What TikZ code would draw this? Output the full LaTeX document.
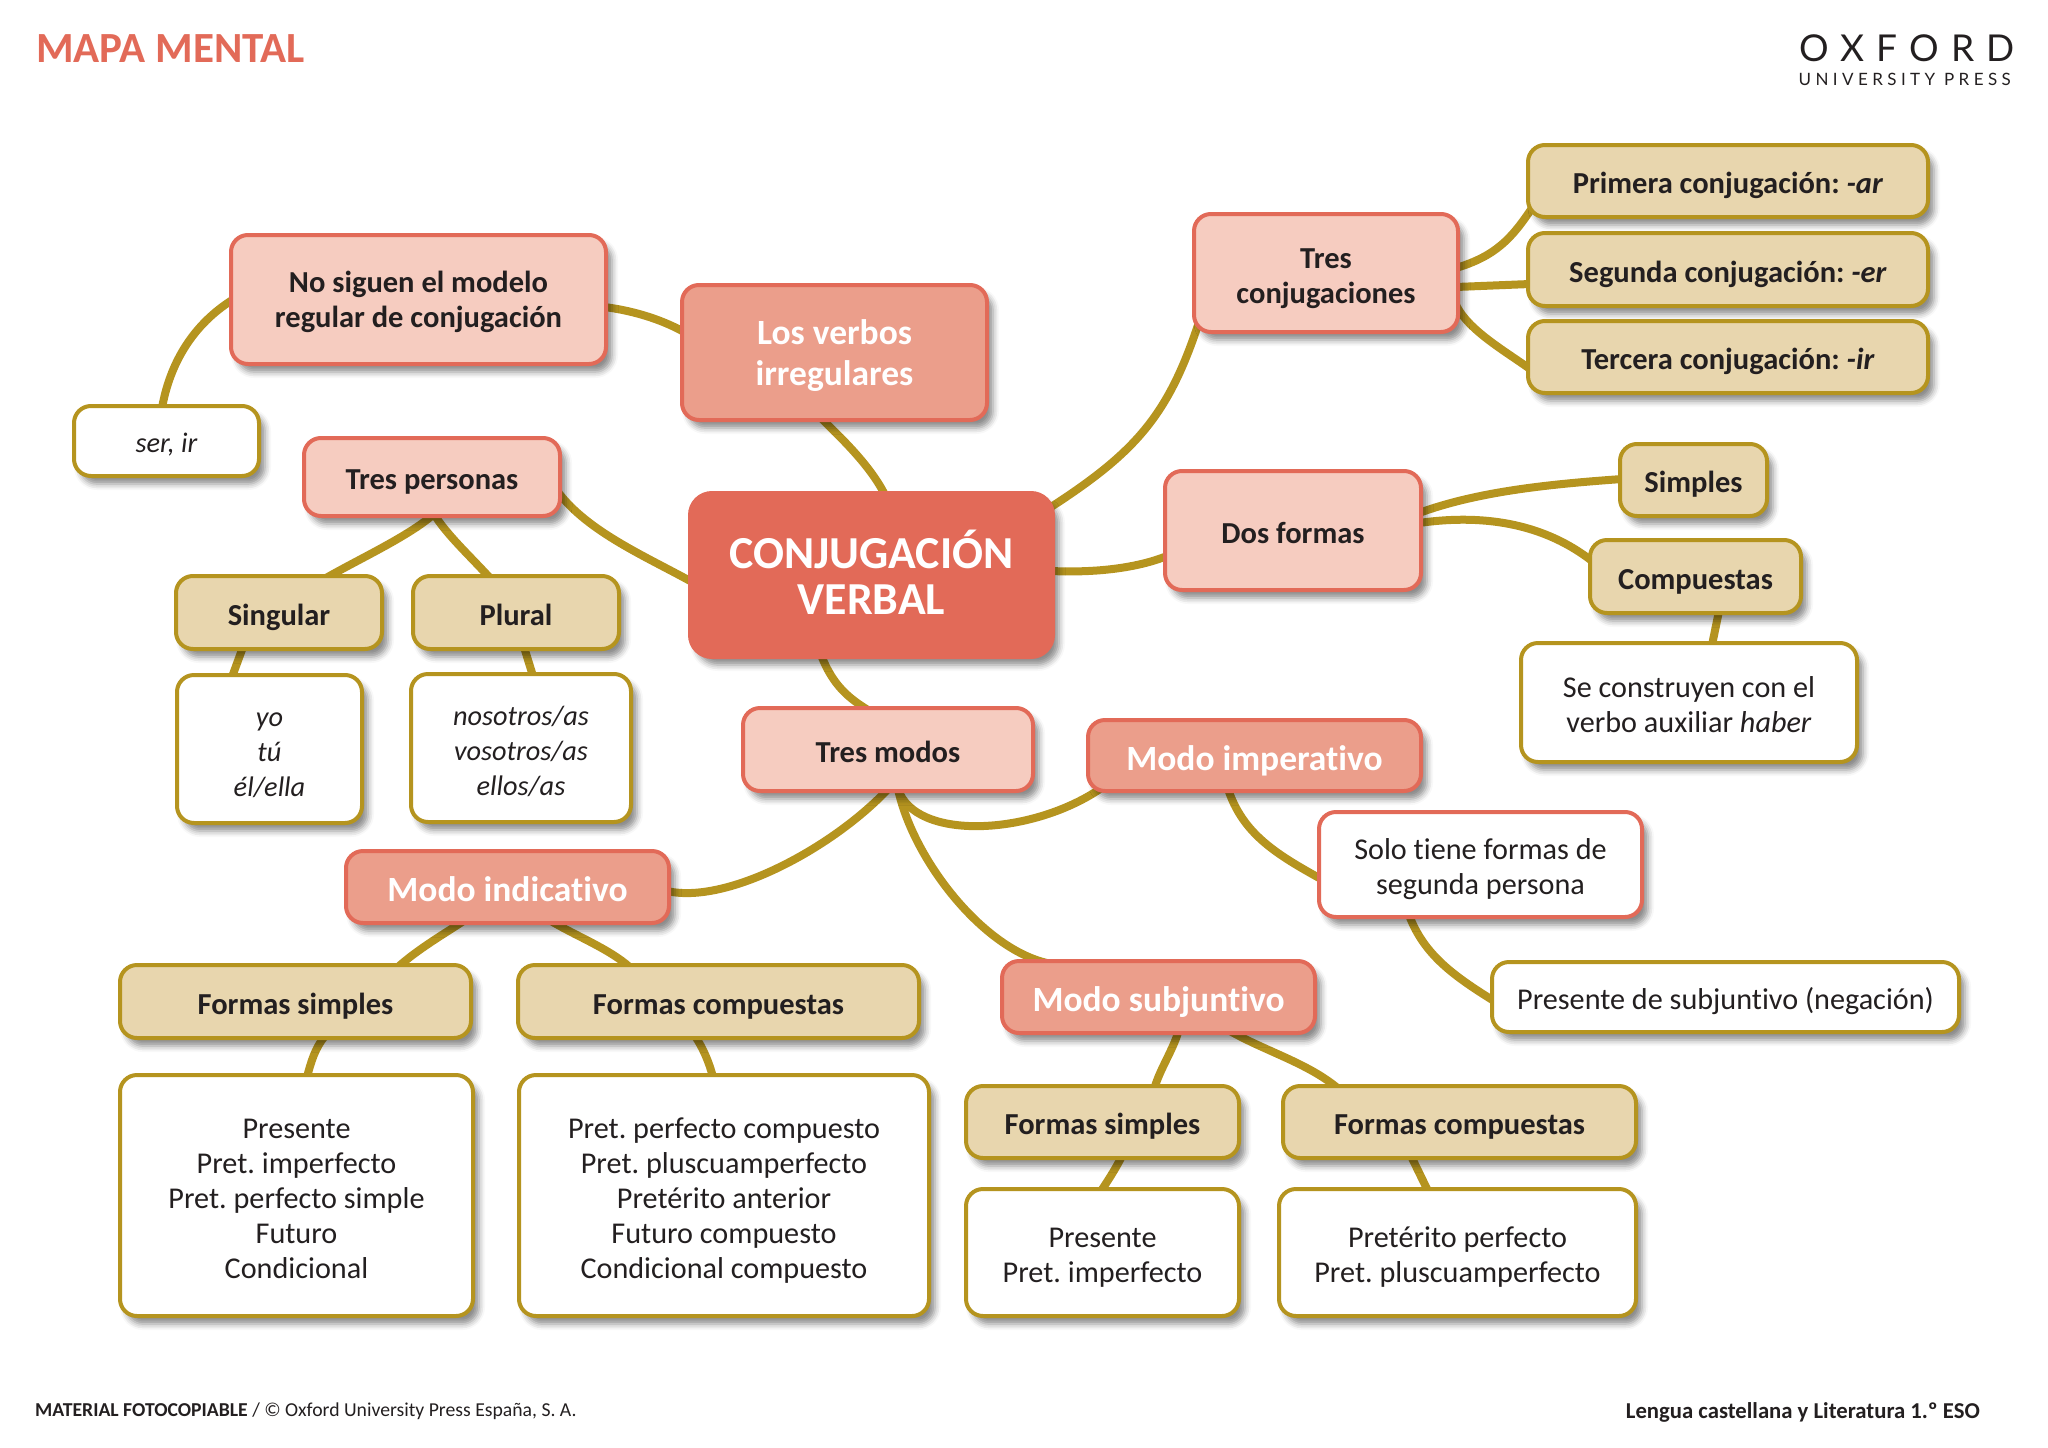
\documentclass[tikz,border=0pt]{standalone}
\usepackage{fontspec}
\setmainfont[RawFeature={-liga}]{Carlito}
\newfontfamily\oxfont[LetterSpace=33]{Lato}
\newfontfamily\pressfont[LetterSpace=26]{Lato}
\usetikzlibrary{backgrounds,shadows.blur}
\definecolor{coral}{HTML}{E26A58}
\definecolor{salmon}{HTML}{EB9E8B}
\definecolor{blush}{HTML}{F6CCC0}
\definecolor{sand}{HTML}{E8D6AE}
\definecolor{gold}{HTML}{B5941F}
\definecolor{ink}{HTML}{231F20}
\newcommand{\lift}{\rule{0pt}{25pt}}
\tikzset{
  mapbox/.style={rectangle, rounded corners=17pt, line width=4pt, outer sep=-2pt, align=center,
    text=ink, text depth=0pt, execute at begin node={\rule{0pt}{.83em}}, font=\fontsize{30.2}{35}\selectfont,
    blur shadow={shadow xshift=6pt, shadow yshift=-8pt, shadow blur radius=6pt, shadow opacity=45}},
  mainbox/.style={mapbox, fill=coral, draw=coral, rounded corners=22pt, text=white, text depth=5pt, execute at begin node={}, font=\fontsize{45.8}{46}\bfseries\selectfont},
  strongbox/.style={mapbox, fill=salmon, draw=coral, text=white, font=\fontsize{35.5}{41}\bfseries\selectfont},
  softbox/.style={mapbox, fill=blush, draw=coral, font=\fontsize{30.5}{35}\bfseries\selectfont},
  sandbox/.style={mapbox, fill=sand, draw=gold, font=\fontsize{30.5}{35}\bfseries\selectfont},
  plainbox/.style={mapbox, fill=white, draw=gold},
  italicbox/.style={plainbox, font=\fontsize{28.3}{35}\itshape\selectfont},
  redplainbox/.style={mapbox, fill=white, draw=coral},
  link/.style={draw=gold, line width=8pt}
}
\begin{document}
\frenchspacing
\begin{tikzpicture}[x=1pt, y=-1pt]
    \useasboundingbox (0,0) rectangle (2048,1448);
    % Header and footer
    \node[text=coral, font=\fontsize{43}{43}\bfseries\selectfont, anchor=west, inner sep=0pt] (title) at (36,49) {MAPA MENTAL};
    \node[text=ink, font=\oxfont\fontsize{37}{37}\selectfont, anchor=east, inner sep=0pt] (oxford) at (2015,48) {OXFORD};
    \node[text=ink, font=\pressfont\fontsize{17}{17}\selectfont, anchor=east, inner sep=0pt] (press) at (2011,79) {UNIVERSITY PRESS};
    \node[text=ink, font=\fontsize{19.7}{20}\selectfont, anchor=west, inner sep=0pt] (copyr) at (35,1411) {\textbf{MATERIAL FOTOCOPIABLE} / © Oxford University Press España, S. A.};
    \node[text=ink, font=\fontsize{22.7}{23}\bfseries\selectfont, anchor=east, inner sep=0pt] (book) at (1980,1412) {Lengua castellana y Literatura 1.º ESO};

    % Centre
    \node[mainbox, minimum width=363pt, minimum height=164pt] (central) at (871.5,575) {CONJUGACIÓN\\VERBAL};

    % Irregular verbs
    \node[strongbox, minimum width=305pt, minimum height=135pt] (irregulares) at (834.5,352.5) {Los verbos\\irregulares};
    \node[softbox, minimum width=375pt, minimum height=129pt] (nosiguen) at (418.5,299.5) {No siguen el modelo\\regular de conjugación};
    \node[italicbox, minimum width=185pt, minimum height=70pt] (serir) at (166.5,441) {ser, ir};

    % Persons
    \node[softbox, minimum width=256pt, minimum height=78pt] (personas) at (432,477) {Tres personas};
    \node[sandbox, minimum width=206pt, minimum height=73pt] (singular) at (279,612.5) {Singular};
    \node[sandbox, minimum width=206pt, minimum height=73pt] (plural) at (516,612.5) {Plural};
    \node[italicbox, minimum width=185pt, minimum height=148pt] (yo) at (269.5,749) {\lift yo\\tú\\él/ella};
    \node[italicbox, minimum width=220pt, minimum height=148pt] (nosotros) at (521,748) {\lift nosotros/as\\vosotros/as\\ellos/as};

    % Conjugations
    \node[softbox, minimum width=264pt, minimum height=118pt] (conjug) at (1326,273) {\lift Tres\\conjugaciones};
    \node[sandbox, minimum width=400pt, minimum height=72pt] (primera) at (1728,181) {Primera conjugación: \textit{-ar}};
    \node[sandbox, minimum width=400pt, minimum height=73pt] (segunda) at (1728,269.5) {Segunda conjugación: \textit{-er}};
    \node[sandbox, minimum width=400pt, minimum height=72pt] (tercera) at (1728,357) {Tercera conjugación: \textit{-ir}};

    % Forms
    \node[softbox, minimum width=256pt, minimum height=119pt] (dosformas) at (1293,530.5) {Dos formas};
    \node[sandbox, minimum width=147pt, minimum height=72pt] (simples) at (1693.5,480) {Simples};
    \node[sandbox, minimum width=211pt, minimum height=73pt] (compuestas) at (1695.5,576.5) {Compuestas};
    \node[plainbox, minimum width=336pt, minimum height=119pt] (auxiliar) at (1689,702.5) {\lift Se construyen con el\\verbo auxiliar \textit{haber}};

    % Moods
    \node[softbox, minimum width=290pt, minimum height=83pt] (modos) at (888,749.5) {Tres modos};
    \node[strongbox, minimum width=333pt, minimum height=71pt] (imperativo) at (1254.5,755.5) {Modo imperativo};
    \node[redplainbox, minimum width=323pt, minimum height=105pt] (solo) at (1480.5,864.5) {\lift Solo tiene formas de\\segunda persona};
    \node[plainbox, minimum width=467pt, minimum height=70pt] (negacion) at (1725.5,997) {Presente de subjuntivo (negación)};
    \node[strongbox, minimum width=323pt, minimum height=72pt] (indicativo) at (507.5,887) {Modo indicativo};
    \node[strongbox, minimum width=313pt, minimum height=72pt] (subjuntivo) at (1158.5,997) {Modo subjuntivo};
    \node[sandbox, minimum width=351pt, minimum height=73pt] (simplesA) at (295.5,1001.5) {Formas simples};
    \node[sandbox, minimum width=401pt, minimum height=73pt] (compuestasA) at (718.5,1001.5) {Formas compuestas};
    \node[plainbox, minimum width=353pt, minimum height=241pt] (listaA) at (296.5,1195.5) {\lift Presente\\Pret. imperfecto\\Pret. perfecto simple\\Futuro\\Condicional};
    \node[plainbox, minimum width=410pt, minimum height=241pt] (listaB) at (724,1195.5) {\lift Pret. perfecto compuesto\\Pret. pluscuamperfecto\\Pretérito anterior\\Futuro compuesto\\Condicional compuesto};
    \node[sandbox, minimum width=273pt, minimum height=72pt] (simplesB) at (1102.5,1122) {Formas simples};
    \node[sandbox, minimum width=353pt, minimum height=72pt] (compuestasB) at (1459.5,1122) {Formas compuestas};
    \node[plainbox, minimum width=273pt, minimum height=127pt] (listaC) at (1102.5,1252.5) {\lift Presente\\Pret. imperfecto};
    \node[plainbox, minimum width=357pt, minimum height=127pt] (listaD) at (1457.5,1252.5) {\lift Pretérito perfecto\\Pret. pluscuamperfecto};

    % Connectors go behind the boxes
    \begin{scope}[on background layer]
        \draw[link] ([yshift=20.5pt]irregulares.west) .. controls +(-25,-14) and +(25,3) .. ([yshift=-7.5pt]nosiguen.east);
        \draw[link] (nosiguen.west) .. controls +(-40,25) and +(8,-45) .. ([xshift=-4.5pt]serir.north);
        \draw[link] ([xshift=13.5pt]central.north) .. controls +(-15,-30) and +(20,20) .. ([xshift=-13.5pt]irregulares.south);
        \draw[link] ([yshift=-7pt]central.west) .. controls +(-45,-25) and +(30,40) .. ([yshift=-15pt]personas.east);
        \draw[link] ([xshift=2pt]personas.south) .. controls +(-25,22) and +(35,-20) .. ([xshift=47pt]singular.north);
        \draw[link] ([xshift=2pt]personas.south) .. controls +(12,20) and +(-20,-22) .. ([xshift=-26pt]plural.north);
        \draw[link] ([xshift=-36pt]singular.south) -- ([xshift=-37.5pt]yo.north);
        \draw[link] ([xshift=8pt]plural.south) -- ([xshift=12pt]nosotros.north);
        \draw[link] ([xshift=-50.5pt]central.south) .. controls +(10,25) and +(-25,-15) .. ([xshift=-20pt]modos.north);
        \draw[link] ([yshift=68pt]central.east) .. controls +(85,-55) and +(-30,90) .. ([yshift=-52pt,xshift=2pt]conjug.west);
        \draw[link] ([yshift=4pt]central.east) .. controls +(45,2) and +(-30,12) .. ([yshift=-25.5pt]dosformas.west);
        \draw[link] ([yshift=5pt]conjug.east) .. controls +(40,-12) and +(-20,30) .. ([yshift=-27pt,xshift=2pt]primera.west);
        \draw[link] ([yshift=-14pt]conjug.east) -- ([yshift=-14.5pt]segunda.west);
        \draw[link] ([yshift=-32pt]conjug.east) .. controls +(12,25) and +(-25,-18) .. ([yshift=-12pt]tercera.west);
        \draw[link] ([yshift=17.5pt]dosformas.east) .. controls +(60,-22) and +(-70,5) .. ([yshift=1pt]simples.west);
        \draw[link] ([yshift=7.5pt]dosformas.east) .. controls +(70,-10) and +(-45,-35) .. ([yshift=15.5pt]compuestas.west);
        \draw[link] ([xshift=23.5pt]compuestas.south) -- ([xshift=23pt]auxiliar.north);
        \draw[link] (modos.south) .. controls +(-53,57) and +(61,14) .. ([yshift=-4pt]indicativo.east);
        \draw[link] ([xshift=10pt]modos.south) .. controls +(17,52) and +(-70,47) .. ([xshift=-154.5pt]imperativo.south);
        \draw[link] ([xshift=10pt]modos.south) .. controls +(15,70) and +(-65,-15) .. ([xshift=-111.5pt]subjuntivo.north);
        \draw[link] ([xshift=-26.5pt]imperativo.south) .. controls +(15,45) and +(-45,-25) .. ([yshift=-14.5pt]solo.west);
        \draw[link] ([xshift=-71.5pt]solo.south) .. controls +(15,40) and +(-40,-25) .. ([yshift=-4pt]negacion.west);
        \draw[link] ([xshift=-44pt]indicativo.south) .. controls +(-18,12) and +(20,-18) .. ([xshift=102.5pt]simplesA.north);
        \draw[link] ([xshift=43.5pt]indicativo.south) .. controls +(25,15) and +(-20,-18) .. ([xshift=-89pt]compuestasA.north);
        \draw[link] ([xshift=29.5pt]simplesA.south) .. controls +(-10,12) and +(4,-15) .. ([xshift=10.5pt]listaA.north);
        \draw[link] ([xshift=-23.5pt]compuestasA.south) .. controls +(8,12) and +(-4,-15) .. ([xshift=-11pt]listaB.north);
        \draw[link] ([xshift=20pt]subjuntivo.south) .. controls +(-5,18) and +(5,-18) .. ([xshift=52pt]simplesB.north);
        \draw[link] ([xshift=71.5pt]subjuntivo.south) .. controls +(35,20) and +(-30,-25) .. ([xshift=-122pt]compuestasB.north);
        \draw[link] ([xshift=19.5pt]simplesB.south) .. controls +(-6,12) and +(8,-12) .. ([xshift=-1.5pt]listaC.north);
        \draw[link] ([xshift=-48.5pt]compuestasB.south) -- ([xshift=-29.5pt]listaD.north);
    \end{scope}
\end{tikzpicture}
\end{document}
